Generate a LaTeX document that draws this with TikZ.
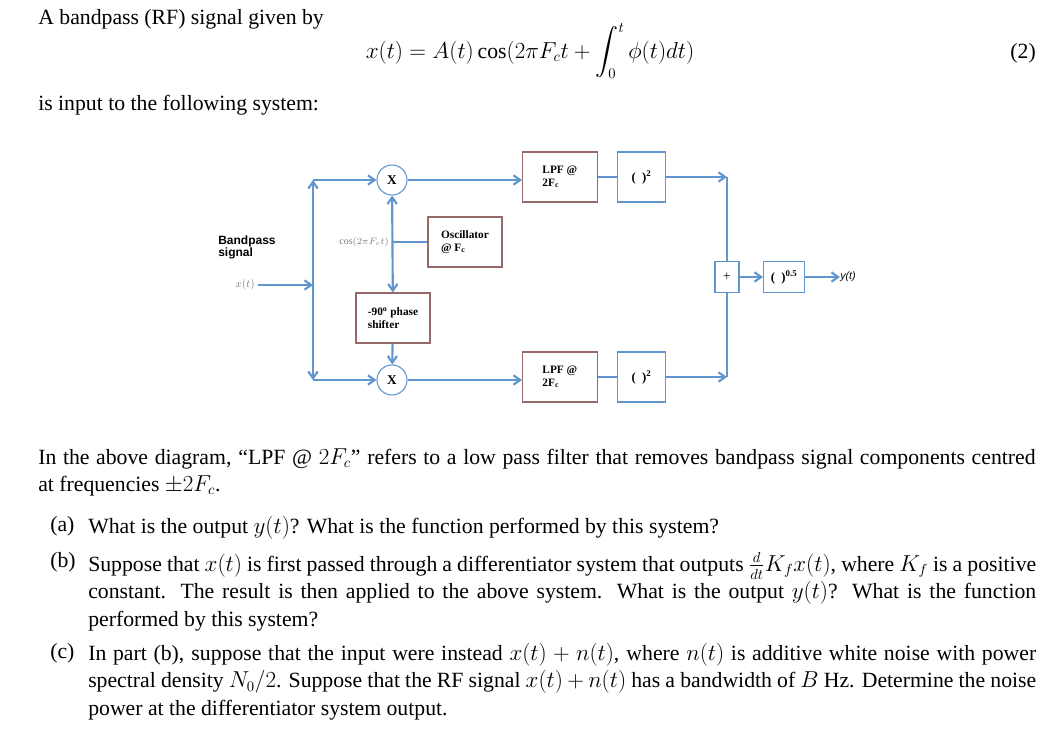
\documentclass[tikz,border=0pt]{standalone}
\usepackage{amsmath}
\usepackage{fontspec}
\setmainfont{Liberation Serif}
\newfontfamily\sansf{Liberation Sans}
\usetikzlibrary{arrows.meta}
\definecolor{ln}{RGB}{95,150,205}
\definecolor{br}{RGB}{150,105,105}
\begin{document}
\begin{tikzpicture}[x=0.75pt,y=-0.75pt,
  wire/.style={ln,line width=1.6pt},
  arr/.style={wire,-{Straight Barb[length=5pt,width=7pt]}},
  darr/.style={wire,{Straight Barb[length=5pt,width=7pt]}-{Straight Barb[length=5pt,width=7pt]}},
  bbox/.style={draw=br,line width=0.8pt,fill=white,inner sep=1pt,font=\fontsize{8.5}{9.5}\selectfont\bfseries,align=left},
  sbox/.style={draw=ln,line width=0.8pt,fill=white,inner sep=0pt,font=\fontsize{9.5}{10}\selectfont\bfseries},
  mul/.style={circle,draw=ln,line width=0.8pt,fill=white,minimum size=22.5pt,inner sep=0pt,font=\fontsize{10}{10}\selectfont\bfseries},
  body/.style={font=\fontsize{16.3}{20.6}\selectfont,inner sep=0pt}]
\useasboundingbox (0,0) rectangle (1054,739);
% top texts
\node[body,anchor=base west] (t1) at (38,24) {A bandpass (RF) signal given by};
\node[body,anchor=base] (eq) at (530,58) {$\displaystyle x(t)=A(t)\cos(2\pi F_c t+\int_0^t \phi(t)dt)$};
\node[body,anchor=base east] (n2) at (1036,58) {(2)};
\node[body,anchor=base west] (t2) at (38,110) {is input to the following system:};
% diagram nodes
\node[mul] (m1) at (392,180) {X};
\node[mul] (m2) at (392,380) {X};
\node[bbox,minimum width=55.5pt,minimum height=37.5pt] (osc) at (465,242) {Oscillator\\@ F\textsubscript{c}};
\node[bbox,minimum width=55.5pt,minimum height=37.5pt] (ps) at (393,318) {-90\textsuperscript{o} phase\\shifter};
\node[bbox,minimum width=56pt,minimum height=37.5pt,anchor=west] (l1) at (522,177) {LPF @\\2F\textsubscript{c}};
\node[bbox,minimum width=56pt,minimum height=37.5pt,anchor=west] (l2) at (522,377) {LPF @\\2F\textsubscript{c}};
\node[sbox,minimum width=36pt,minimum height=37.5pt,anchor=west] (s1) at (617,177) {(\enspace)\textsuperscript{2}};
\node[sbox,minimum width=36pt,minimum height=37.5pt,anchor=west] (s2) at (617,377) {(\enspace)\textsuperscript{2}};
\node[sbox,minimum width=18pt,minimum height=23pt,font=\fontsize{10}{10}\selectfont] (pl) at (727,277) {+};
\node[sbox,minimum width=31pt,minimum height=23pt,anchor=west] (sq) at (763,277) {(\enspace)\textsuperscript{0.5}};
\node[anchor=west,inner sep=0pt,font=\sansf\itshape\fontsize{8}{8}\selectfont] (y) at (840,277) {y(t)};
\node[anchor=west,inner sep=0pt,align=left,font=\sansf\bfseries\fontsize{9}{9}\selectfont] (bp) at (218,247) {Bandpass\\signal};
\node[anchor=east,inner sep=0pt,font=\fontsize{8}{8}\selectfont,text=gray] (xt) at (255,285) {$x(t)$};
\node[anchor=east,inner sep=0pt,font=\fontsize{7.5}{8}\selectfont,text=gray] (cs) at (389,242) {$\cos(2\pi F_c t)$};
\coordinate (vt) at (313,180); \coordinate (vb) at (313,380);
\coordinate (vx) at (313,285);
\coordinate (jt) at (727,177); \coordinate (jb) at (727,377);
\coordinate (oc) at (392,242);
% wires
\draw[darr] (vt) -- (vb);
\draw[arr] (xt.east) ++(3,0) -- (vx);
\draw[arr] (vt) -- (m1);
\draw[arr] (vb) -- (m2);
\draw[darr] (m1) -- (ps);
\draw[wire] (oc) -- (osc);
\draw[arr] (ps) -- (m2);
\draw[arr] (m1) -- (m1 -| l1.west);
\draw[arr] (m2) -- (m2 -| l2.west);
\draw[wire] (l1) -- (s1);
\draw[wire] (l2) -- (s2);
\draw[arr] (s1) -- (jt);
\draw[arr] (s2) -- (jb);
\draw[wire] (jt) -- (pl);
\draw[wire] (jb) -- (pl);
\draw[arr] (pl) -- (sq);
\draw[arr] (sq) -- (y);
% bottom text
\node[body,anchor=north west,text width=748pt,align=justify] (p1) at (38,448) {In the above diagram, ``LPF @ $2F_c$'' refers to a low pass filter that removes bandpass signal components centred\linebreak at frequencies $\pm 2F_c$.};
\node[body,anchor=north west,text width=711pt,align=justify] (a) at (88,516) {What is the output $y(t)$? What is the function performed by this system?};
\node[body,anchor=north west] (la) at (50,516) {(a)};
\node[body,anchor=north west,text width=711pt,align=justify] (b) at (88,552) {Suppose that $x(t)$ is first passed through a differentiator system that outputs $\frac{d}{dt}K_f x(t)$, where $K_f$ is a positive\linebreak constant. The result is then applied to the above system. What is the output $y(t)$? What is the function\linebreak performed by this system?};
\node[body,anchor=north west] (lb) at (50,552) {(b)};
\node[body,anchor=north west,text width=711pt,align=justify] (c) at (88,643) {In part (b), suppose that the input were instead $x(t)+n(t)$, where $n(t)$ is additive white noise with power\linebreak spectral density $N_0/2$. Suppose that the RF signal $x(t)+n(t)$ has a bandwidth of $B$ Hz. Determine the noise\linebreak power at the differentiator system output.};
\node[body,anchor=north west] (lc) at (50,643) {(c)};
\end{tikzpicture}
\end{document}
